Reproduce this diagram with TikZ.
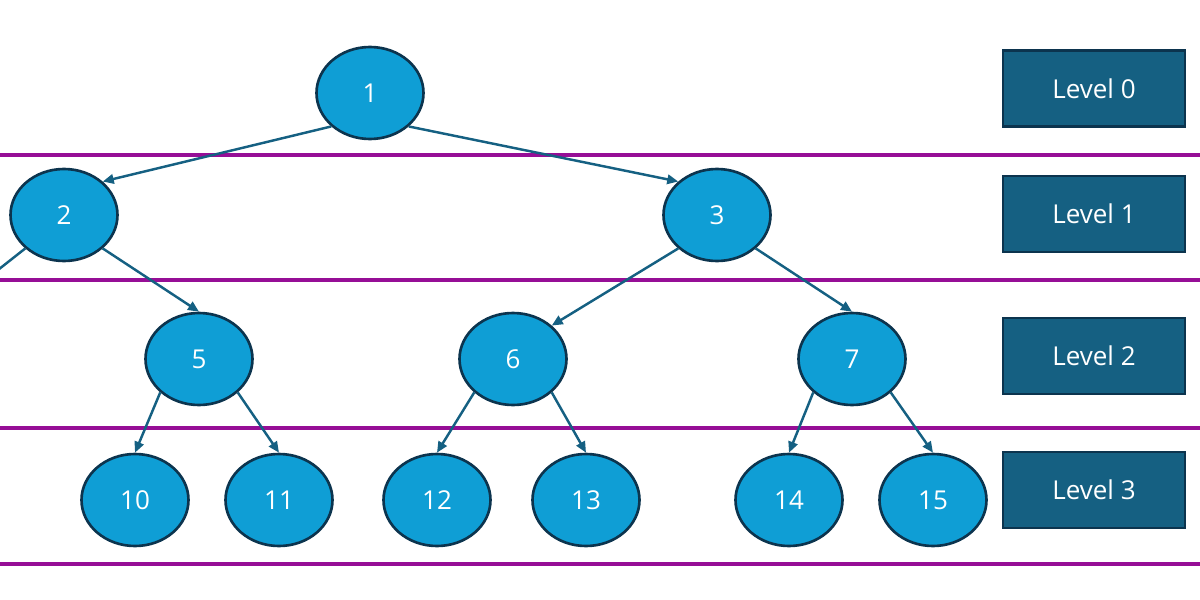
\documentclass[tikz,border=0pt]{standalone}
\usepackage{fontspec}
\setsansfont{Open Sans}
\usetikzlibrary{arrows.meta,shapes.geometric}
\definecolor{heapCyan}{RGB}{15,158,213}
\definecolor{heapEdge}{RGB}{21,96,130}
\definecolor{heapRim}{RGB}{12,52,78}
\definecolor{heapBox}{RGB}{21,96,130}
\definecolor{heapPurple}{RGB}{150,14,150}
\begin{document}
\begin{tikzpicture}[line cap=butt,line join=miter,
  heapnode/.style={ellipse,draw=heapRim,fill=heapCyan,line width=0.75pt,inner sep=0pt,
    minimum width=1.07cm,minimum height=0.92cm,text=white,font=\sffamily\fontsize{7.4}{9}\selectfont},
  levelbox/.style={rectangle,draw=heapRim,fill=heapBox,line width=0.7pt,inner sep=0pt,
    minimum width=1.82cm,minimum height=0.76cm,text=white,font=\sffamily\fontsize{7.4}{9}\selectfont},
  heaparrow/.style={heapEdge,line width=0.7pt,-{Triangle[length=1.1mm,width=0.95mm]}},
  levelline/.style={heapPurple,line width=0.9pt}]
  \useasboundingbox (0,0) rectangle (12,-6);
  \clip (0,0) rectangle (12,-6);
  % level separators
  \foreach \y in {1.55,2.80,4.28,5.64}
    \draw[levelline] (0,-\y) -- (12,-\y);
  % tree nodes
  \node[heapnode] (n1)  at (3.70,-0.93) {1};
  \node[heapnode] (n2)  at (0.64,-2.15) {2};
  \node[heapnode] (n3)  at (7.17,-2.15) {3};
  \node[heapnode] (n5)  at (1.99,-3.59) {5};
  \node[heapnode] (n6)  at (5.13,-3.59) {6};
  \node[heapnode] (n7)  at (8.52,-3.59) {7};
  \node[heapnode] (n10) at (1.35,-5.00) {10};
  \node[heapnode] (n11) at (2.79,-5.00) {11};
  \node[heapnode] (n12) at (4.37,-5.00) {12};
  \node[heapnode] (n13) at (5.86,-5.00) {13};
  \node[heapnode] (n14) at (7.89,-5.00) {14};
  \node[heapnode] (n15) at (9.33,-5.00) {15};
  \coordinate (n4) at (-1.15,-3.59);
  % level labels
  \node[levelbox] (lv0) at (10.94,-0.885) {Level 0};
  \node[levelbox] (lv1) at (10.94,-2.14) {Level 1};
  \node[levelbox] (lv2) at (10.94,-3.56) {Level 2};
  \node[levelbox] (lv3) at (10.94,-4.90) {Level 3};
  % edges
  \draw[heaparrow] (n1.south west) -- (n2.north east);
  \draw[heaparrow] (n1.south east) -- (n3.north west);
  \draw[heapEdge,line width=0.7pt] (n2.south west) -- (n4);
  \draw[heaparrow] (n2.south east) -- (n5.north);
  \draw[heaparrow] (n3.south west) -- (n6.north east);
  \draw[heaparrow] (n3.south east) -- (n7.north);
  \draw[heaparrow] (n5.south west) -- (n10.north);
  \draw[heaparrow] (n5.south east) -- (n11.north);
  \draw[heaparrow] (n6.south west) -- (n12.north);
  \draw[heaparrow] (n6.south east) -- (n13.north);
  \draw[heaparrow] (n7.south west) -- (n14.north);
  \draw[heaparrow] (n7.south east) -- (n15.north);
\end{tikzpicture}
\end{document}
